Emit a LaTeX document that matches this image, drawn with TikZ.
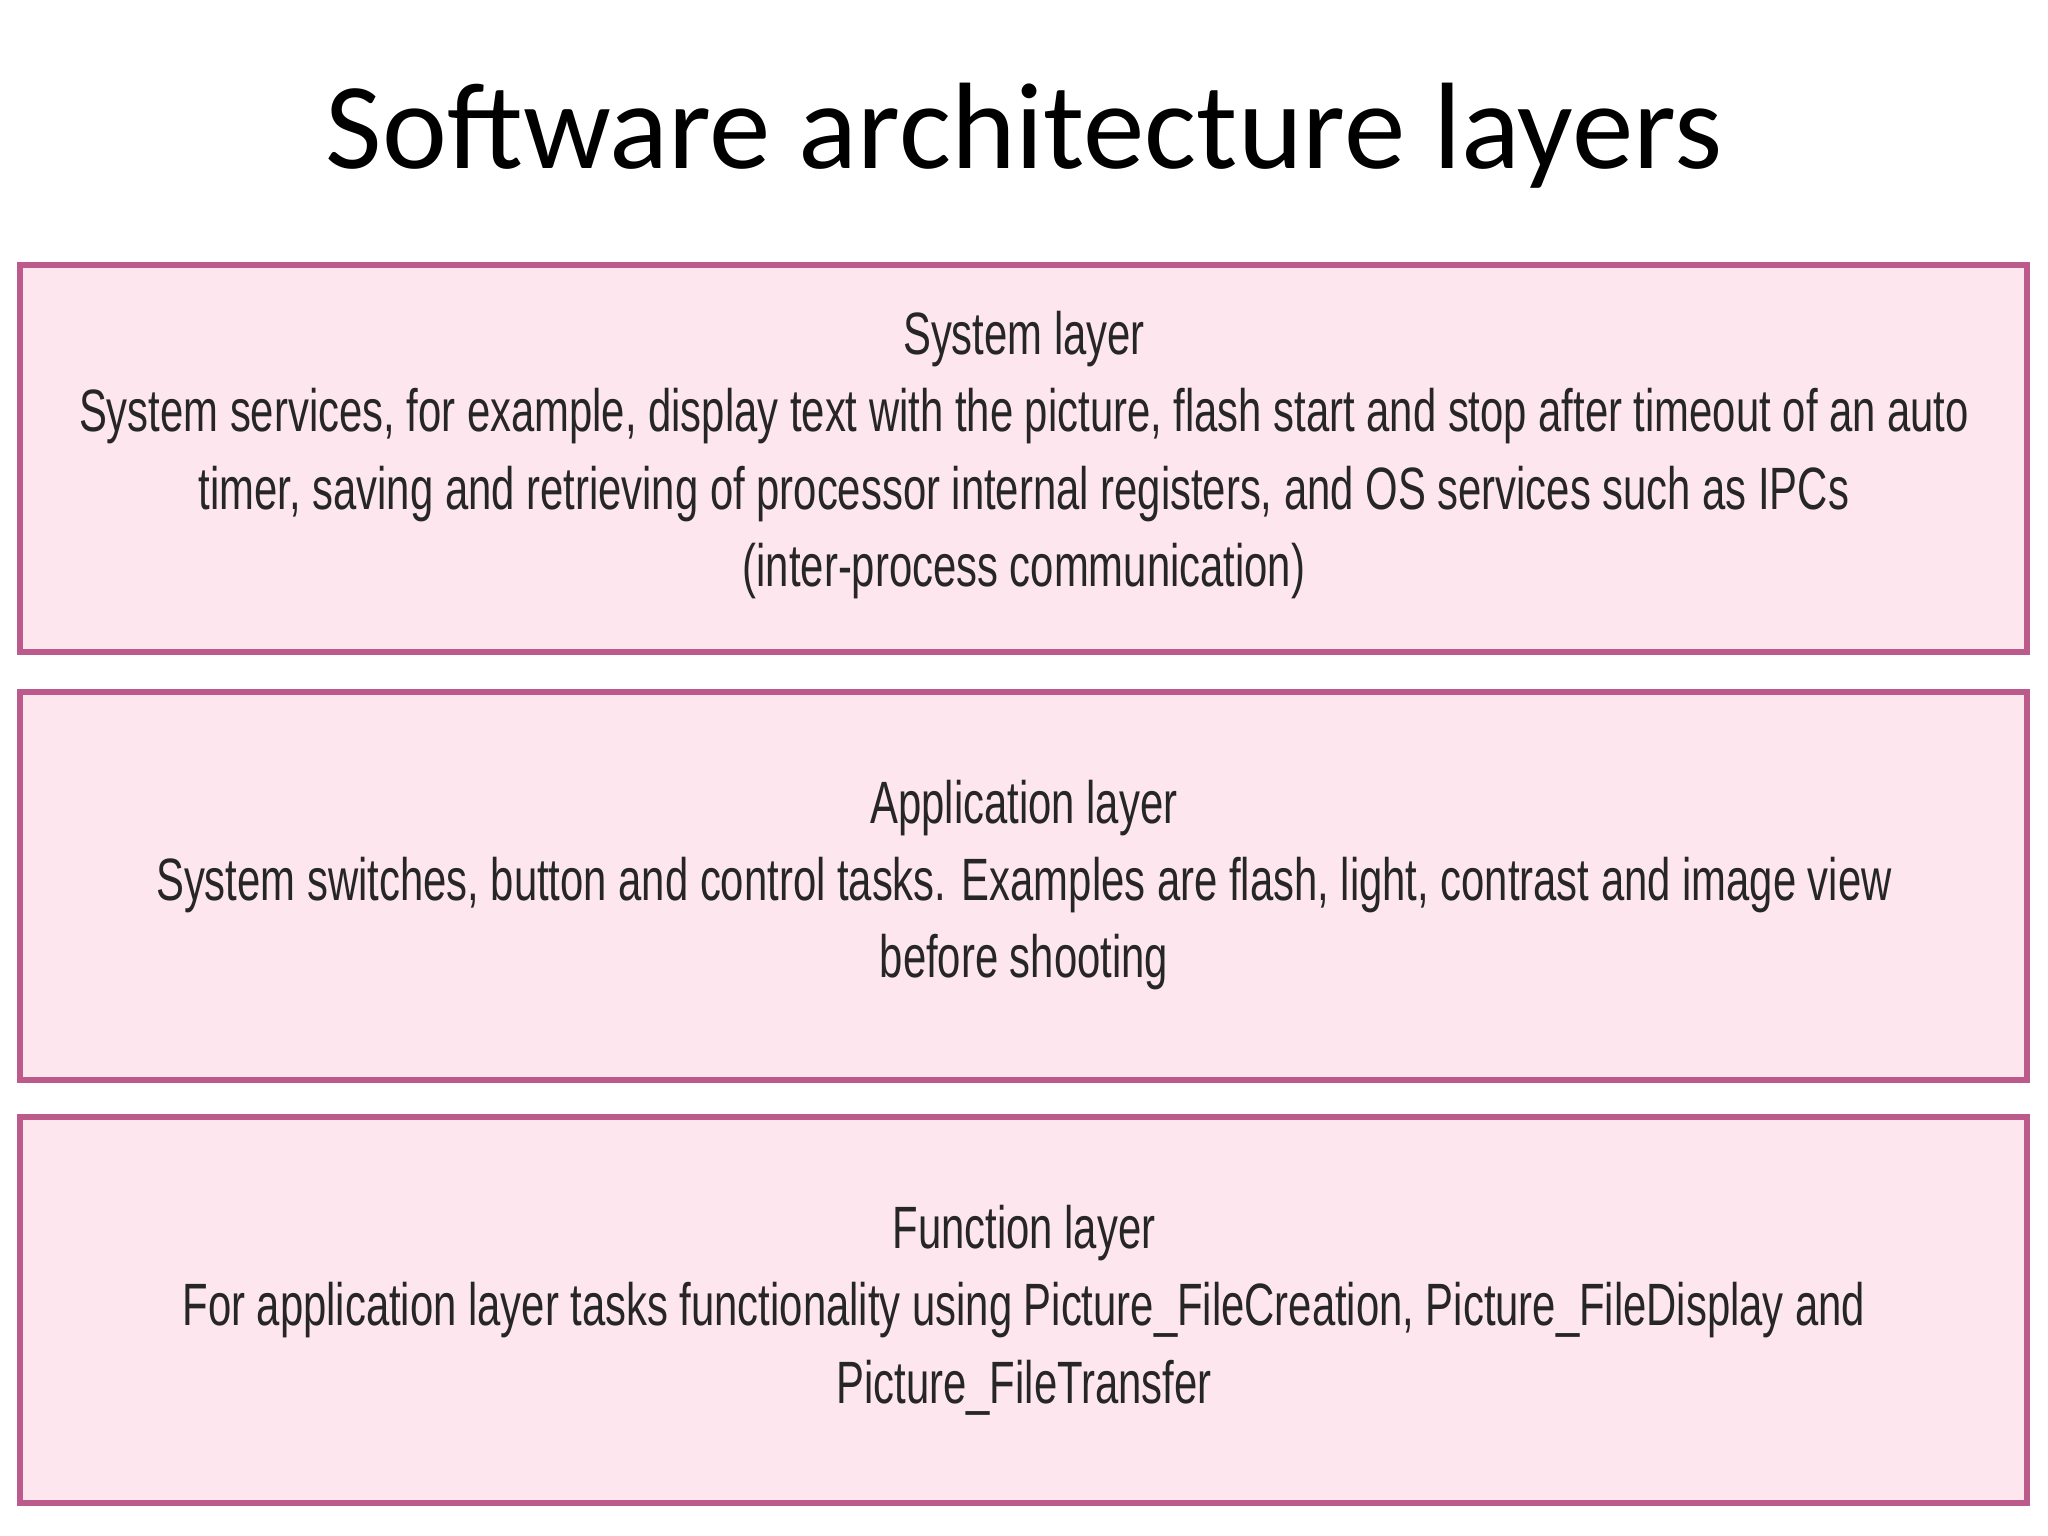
\documentclass[tikz,border=0pt]{standalone}
\usepackage{fontspec}
\setmainfont{Liberation Sans}[FakeStretch=0.7]
\newfontfamily\titlefont{Carlito}
\definecolor{boxfill}{HTML}{FDE6EE}
\definecolor{boxline}{HTML}{BC5A8C}
\tikzset{layer/.style={draw=boxline,line width=1.6pt,fill=boxfill},
 ltext/.style={align=center,font=\fontsize{17}{22}\selectfont,text=black!85}}
\begin{document}
\begin{tikzpicture}[x=1cm,y=1cm]
\useasboundingbox (0,0) rectangle (20.48,-15.36);
\node[font=\titlefont\fontsize{35}{40}\selectfont] (title) at (10.24,-1.36) {Software architecture layers};
\draw[layer] (0.20,-2.65) rectangle (20.27,-6.52);
\draw[layer] (0.20,-6.92) rectangle (20.27,-10.80);
\draw[layer] (0.20,-11.17) rectangle (20.27,-15.03);
\node[ltext] (sys) at (10.24,-4.55) {System layer\\System services, for example, display text with the picture, flash start and stop after timeout of an auto\\timer, saving and retrieving of processor internal registers, and OS services such as IPCs\\(inter-process communication)};
\node[ltext] (app) at (10.24,-8.85) {Application layer\\System switches, button and control tasks. Examples are flash, light, contrast and image view\\before shooting};
\node[ltext] (fun) at (10.24,-13.1) {Function layer\\For application layer tasks functionality using Picture\_FileCreation, Picture\_FileDisplay and\\Picture\_FileTransfer};
\end{tikzpicture}
\end{document}
